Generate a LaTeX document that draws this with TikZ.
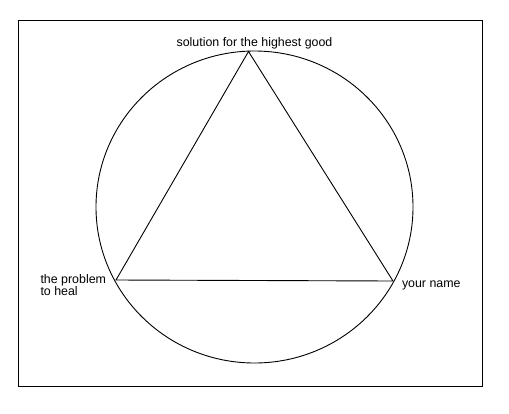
\documentclass[tikz,border=0pt]{standalone}
\usepackage{fontspec}
\setmainfont{Liberation Sans}
\usepackage{tikz}
\usetikzlibrary{shapes.geometric}
\usetikzlibrary{positioning}
\tikzstyle{vtext} = [inner sep=0pt, outer sep=0pt, align=left,
font=\fontsize{12.4}{12}\selectfont]
\tikzstyle{pen} = [draw=black, line width=0.9pt]
\tikzstyle{ring} = [ellipse, pen, inner sep=0pt, minimum width=317pt,
minimum height=312pt]

\begin{document}
\begin{tikzpicture}[x=1pt, y=-1pt]
  \useasboundingbox (0,0) rectangle (509,413);
  % frame
  \node[pen, inner sep=0pt, minimum width=464pt, minimum height=366pt] (frame) at (250,203) {};
  % circle
  \node[ring] (circ) at (254.5,207) {};
  % corners
  \coordinate (top) at (248.5,51.5);
  \coordinate (left) at (116,280);
  \coordinate (right) at (393,281);
  % texts
  \node[vtext, above = 4.8pt of top, anchor = base, xshift = 6pt] (goal) {solution for the highest good};
  \node[vtext, left = 10pt of left, anchor = base east, yshift = -15.3pt] (problem) {the problem\\to heal};
  \node[vtext, right = 9pt of right, anchor = base west, yshift = -6.3pt] (name) {your name};

  % edges
  \draw[pen, line join=miter] (top) -- (left) -- (right) -- cycle;
\end{tikzpicture}
\end{document}
